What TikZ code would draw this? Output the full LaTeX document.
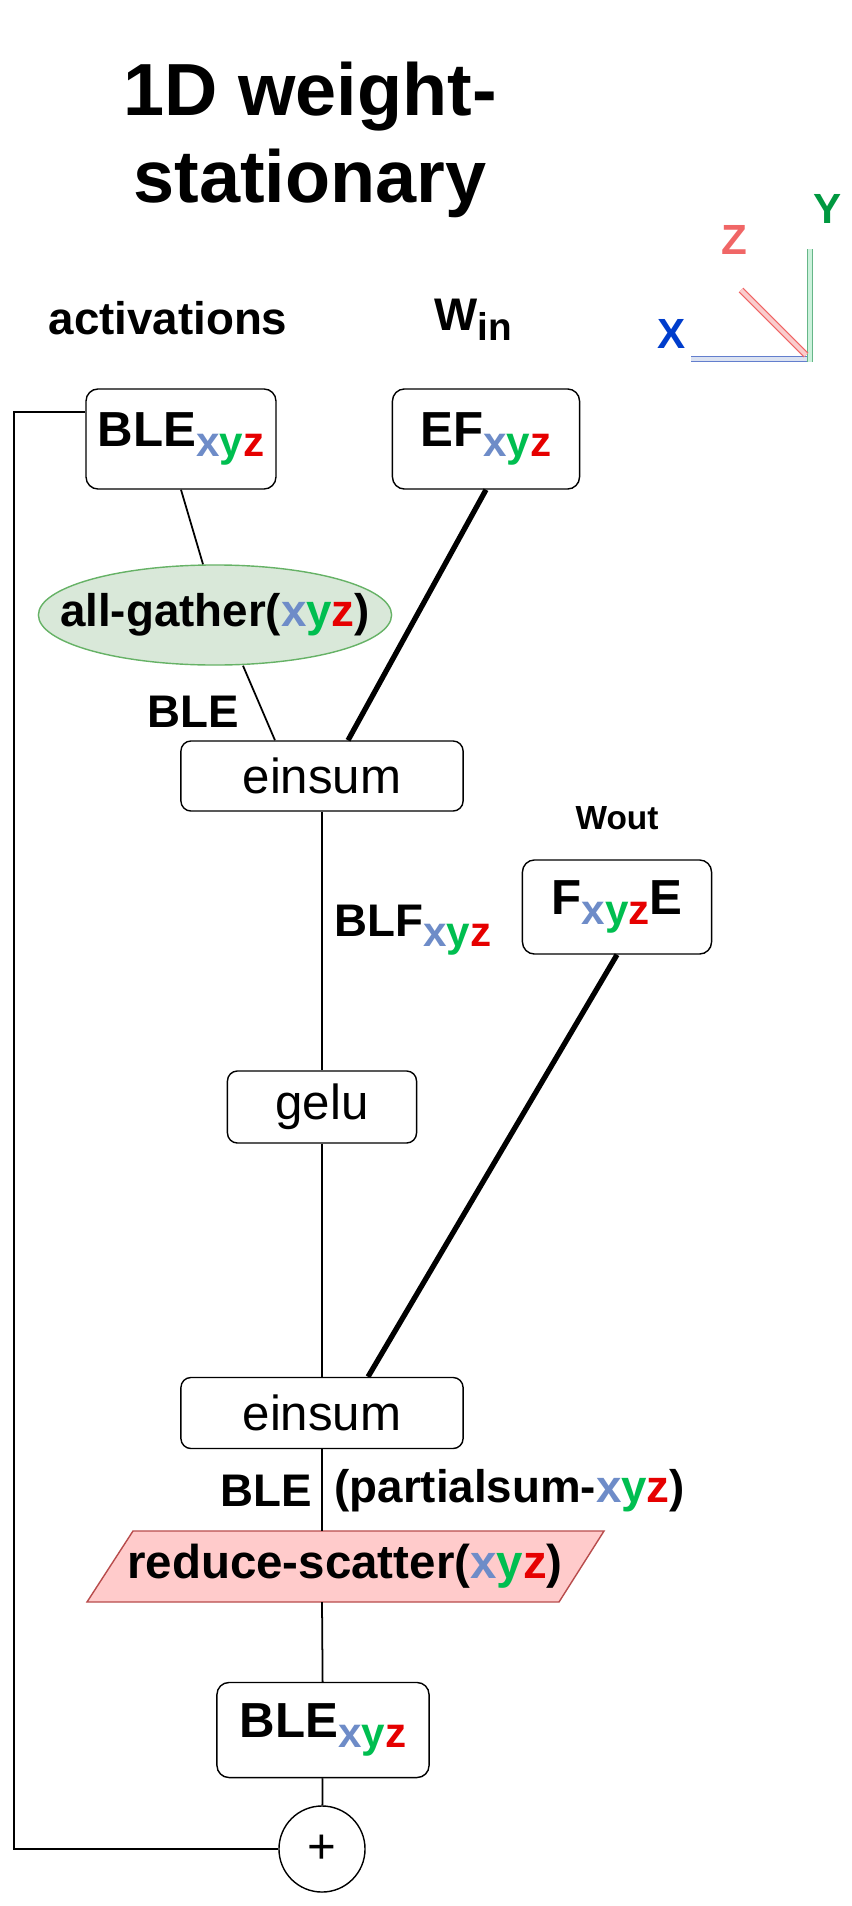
\documentclass[tikz,border=0pt]{standalone}
\usepackage{fontspec}
\setmainfont{Liberation Sans}
\usetikzlibrary{shapes.geometric,positioning}

\definecolor{cx}{RGB}{110,140,200}
\definecolor{cy}{RGB}{0,190,80}
\definecolor{cz}{RGB}{230,0,0}
\newcommand{\xyz}{{\color{cx}x}{\color{cy}y}{\color{cz}z}}
\newcommand{\sxyz}{\raisebox{-0.4ex}{\fontsize{12}{12}\selectfont\xyz}}

\begin{document}
\begin{tikzpicture}[
          x=0.01cm, y=-0.01cm,
          tensor/.style={draw, rounded corners=1.2mm, minimum width=1.87cm, minimum height=1.0cm, font=\fontsize{14}{14}\selectfont\bfseries},
          op/.style={draw, rounded corners=1mm, minimum width=2.82cm, minimum height=0.7cm, font=\fontsize{14}{14}\selectfont},
          lbl/.style={font=\fontsize{13}{13}\selectfont\bfseries},
          weight/.style={line width=1.5pt},
          wire/.style={line width=0.5pt},
          axis/.style={line width=0.012cm, double distance=0.04cm},
          ]
          \useasboundingbox (0,0) rectangle (852,1906);

          % title and axes
          \node[font=\fontsize{21}{24.7}\selectfont\bfseries, align=center] (title) at (310,140) {1D weight-\\stationary};
          \draw[axis, draw=cx!90!blue, double=cx!25] (691,359) coordinate (xend) -- (810,359) coordinate (orig);
          \draw[axis, draw=cy!70!black!60, double=cy!20] (810,362) -- (810,249);
          \draw[axis, draw=cz!60, double=cz!20] (806,355) -- (741,290);
          \node[font=\fontsize{12}{12}\selectfont\bfseries, text=blue!70!cyan!80!black] (xlab) at (672,334) {X};
          \node[font=\fontsize{12}{12}\selectfont\bfseries, text=cy!80!black] (ylab) at (828,209) {Y};
          \node[font=\fontsize{12}{12}\selectfont\bfseries, text=cz!60] (zlab) at (734,240) {Z};

          % inputs
          \node[lbl] (actlab) at (168,318) {activations};
          \node[lbl] (winlab) at (473,320) {W\raisebox{-0.4ex}{\fontsize{11}{11}\selectfont in}};
          \node[tensor] (act) at (181,439) {BLE\sxyz};
          \node[tensor] (win) at (486,439) {EF\sxyz};

          \node[ellipse, draw=green!50!black!60, fill=green!40!black!15, minimum width=3.53cm, minimum height=1.0cm] (ag) at (215,615) {};
          \node[lbl] (aglab) at (ag) {all-gather(\xyz)};
          \node[op] (es1) at (322,776) {einsum};
          \node[lbl] (blelab) at (193,712) {BLE};

          \node[font=\fontsize{9.5}{9.5}\selectfont\bfseries] (woutlab) at (617,818) {Wout};
          \node[tensor, minimum width=1.89cm, minimum height=0.94cm] (wout) at (617,907) {F\sxyz E};
          \node[lbl, anchor=west] (blflab) at (322,930) {BLF\sxyz};

          \node[op, minimum width=1.89cm, minimum height=0.72cm] (gelu) at (322,1107) {gelu};
          \node[op, minimum height=0.71cm] (es2) at (322,1413) {einsum};
          \node[lbl] (psleft) at (266,1491) {BLE};
          \node[lbl, anchor=west] (psright) at (322,1491) {(partialsum-\xyz)};

          % reduce-scatter parallelogram
          \draw[draw=red!60!black!70, fill=red!20!white!95!pink] (87,1602) -- (133,1531) -- (604,1531) -- (559,1602) -- cycle;
          \coordinate (rsn) at (322,1531);
          \coordinate (rss) at (322,1602);
          \node[font=\fontsize{13.5}{13.5}\selectfont\bfseries] (rslab) at (345,1566) {reduce-scatter(\xyz)};

          \node[tensor, minimum width=2.12cm, minimum height=0.95cm] (out) at (323,1730) {BLE\sxyz};
          \node[circle, draw, minimum size=0.86cm, inner sep=0pt, font=\fontsize{14}{14}\selectfont] (plus) at (322,1849) {+};

          % connectors
          \draw[wire] (act.south) -- ([xshift=0.22cm]ag.north -| act.south);
          \draw[wire] ([xshift=0.28cm]ag.south) -- ([xshift=-0.47cm]es1.north);
          \draw[weight] (win.south) -- ([xshift=0.26cm]es1.north);
          \draw[wire] (es1) -- (gelu);
          \draw[wire] (gelu) -- (es2);
          \draw[weight] (wout.south) -- ([xshift=0.46cm]es2.north);
          \draw[wire] (es2) -- (rsn);
          \draw[wire] (rss) -- (out);
          \draw[wire] (out) -- (plus);
          \draw[wire] ([yshift=0.27cm]act.west) -- +(-71,0) |- (plus.west);

        \end{tikzpicture}
\end{document}
